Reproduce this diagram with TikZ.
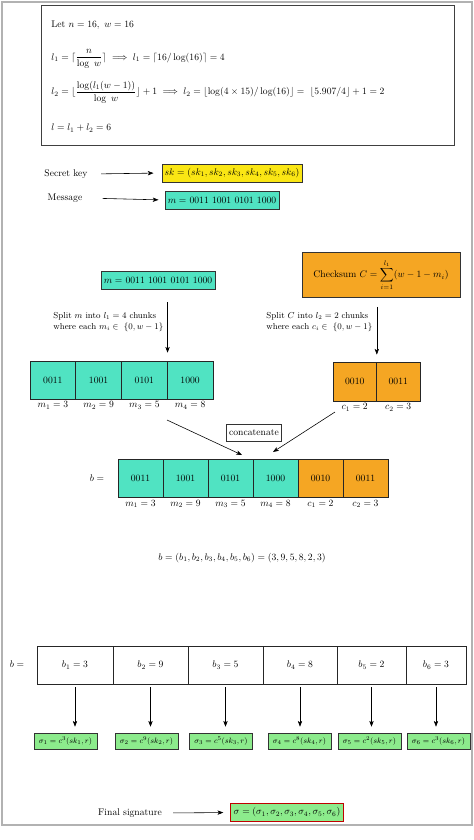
\documentclass[tikz,border=0pt]{standalone}
\usepackage{amsmath}
\usetikzlibrary{positioning,arrows.meta}
\definecolor{turq}{RGB}{80,227,194}
\definecolor{chk}{RGB}{245,166,35}
\definecolor{keyyellow}{RGB}{250,230,20}
\definecolor{siggreen}{RGB}{140,235,140}
\begin{document}
\begin{tikzpicture}[x=0.0365cm,y=-0.0365cm,
  box/.style={draw=black!80, semithick, inner sep=3pt, minimum height=0.66cm},
  cell/.style={draw=black!85, semithick, minimum height=1.39cm, inner sep=0pt},
  sig/.style={draw=black!80, semithick, fill=siggreen, font=\footnotesize, minimum width=2.3cm, minimum height=0.58cm, inner sep=1pt},
  arr/.style={-{Stealth[length=6pt,width=4.5pt,inset=1.5pt]}, semithick},
  small/.style={font=\small, align=left}]
  \useasboundingbox (0,0) rectangle (474,840);
  \draw[gray!60, line width=1.2pt] (2,2) rectangle (472,825);

  % parameters
  \draw[black!75, semithick] (41,5) rectangle (454,145);
  \node[anchor=west] (let) at (48,25) {Let $n = 16,\ w = 16$};
  \node[anchor=west] (lone) at (48,59) {$l_1 = \lceil\dfrac{n}{\log\ w}\rceil \implies l_1 = \lceil 16/\log(16)\rceil = 4$};
  \node[anchor=west] (ltwo) at (48,92) {$l_2 = \lfloor\dfrac{\log(l_1(w-1))}{\log\ w}\rfloor + 1 \implies l_2 = \lfloor\log(4\times15)/\log(16)\rfloor =\ \lfloor 5.907/4\rfloor + 1 = 2$};
  \node[anchor=west] (lsum) at (48,128) {$l = l_1 + l_2 = 6$};

  % inputs
  \node (lsk) at (66,174) {Secret key};
  \node[box, fill=keyyellow] (sk) at (232,173) {$sk = (sk_1, sk_2, sk_3, sk_4, sk_5, sk_6)$};
  \node (lmsg) at (65,198) {Message};
  \node[box, fill=turq] (msg) at (222,200) {$m =$ 0011 1001 0101 1000};
  \draw[arr, shorten <=0.37cm, shorten >=0.29cm] (lsk.east) -- (sk.west);
  \draw[arr, shorten <=0.62cm, shorten >=0.22cm] (lmsg.east) -- (msg.west);

  % message and checksum
  \node[box, fill=turq] (mmsg) at (158,280) {$m =$ 0011 1001 0101 1000};
  \node[box, fill=chk, minimum width=5.77cm, minimum height=1.64cm] (csum) at (381,275) {Checksum $C = \displaystyle\sum_{i=1}^{l_1}(w-1-m_i)$};
  \node[small, anchor=west] (splitm) at (50,322) {Split $m$ into $l_1 = 4$ chunks\\ where each $m_i \in\ \{0, w-1\}$};
  \node[small, anchor=west] (splitc) at (263,322) {Split $C$ into $l_2 = 2$ chunks\\ where each $c_i \in\ \{0, w-1\}$};

  \foreach \v [count=\i] in {0011,1001,0101,1000}
    \node[cell, fill=turq, minimum width=1.67cm] (m\i) at (30+45.75*\i-22.875,380) {\v};
  \foreach \v [count=\i] in {3,9,5,8}
    \node[below=1pt of m\i, inner sep=1pt] (ml\i) {$m_\i = \v$};
  \foreach \v [count=\i] in {0010,0011}
    \node[cell, fill=chk, minimum width=1.59cm, minimum height=1.42cm] (c\i) at (333+43.5*\i-21.75,381.5) {\v};
  \foreach \v [count=\i] in {2,3}
    \node[below=1pt of c\i, inner sep=1pt] (cl\i) {$c_\i = \v$};

  \draw[arr, shorten <=0.47cm, shorten >=0.29cm] (mmsg.south -| m3.north east) -- (m3.north east);
  \draw[arr, shorten <=0.33cm, shorten >=0.26cm] (csum.south -| c1.north east) -- (c1.north east);

  % concatenation
  \node[box, fill=white, minimum height=0.6cm] (cat) at (254,433) {concatenate};
  \coordinate (catA) at (167,420);
  \coordinate (catAend) at (242,455);
  \coordinate (catB) at (335,412);
  \coordinate (catBend) at (273,452);
  \draw[arr] (catA) -- (catAend);
  \draw[arr] (catB) -- (catBend);

  \node (blab) at (97,478) {$b =$};
  \foreach \v/\f [count=\i] in {0011/turq,1001/turq,0101/turq,1000/turq,0010/chk,0011/chk}
    \node[cell, fill=\f, minimum width=1.64cm] (bc\i) at (95.5+45*\i,478.5) {\v};
  \foreach \l [count=\i] in {m_1 = 3,m_2 = 9,m_3 = 5,m_4 = 8,c_1 = 2,c_2 = 3}
    \node[below=1pt of bc\i, inner sep=1pt] (bl\i) {$\l$};

  \node (tuple) at (242,558) {$b = (b_1, b_2, b_3, b_4, b_5, b_6) = (3, 9, 5, 8, 2, 3)$};

  % signing
  \node (blab2) at (17,664) {$b =$};
  \foreach \x/\w/\v [count=\i] in {75/76/3,150.5/75/9,225.5/75/5,300/74/8,371.5/69/2,436/60/3}
    \node[cell, fill=white, minimum width=\w*0.0365cm] (bb\i) at (\x,665) {$b_\i = \v$};
  \foreach \x/\e [count=\i] in {65.5/3,146.5/9,221/5,299.5/8,369.5/2,438.5/3}
    \node[sig] (sg\i) at (\x,741) {$\sigma_\i = c^{\e}(sk_\i, r)$};
  \foreach \i in {1,...,6}
    \draw[arr, shorten <=0.11cm, shorten >=0.22cm] (bb\i.south) -- (bb\i.south |- sg\i.north);

  \node (lfin) at (130,813) {Final signature};
  \node[box, draw=red!75!black, thick, fill=siggreen] (sigma) at (287,812.5) {$\sigma = (\sigma_1, \sigma_2, \sigma_3, \sigma_4, \sigma_5, \sigma_6)$};
  \draw[arr, shorten <=0.29cm, shorten >=0.26cm] (lfin.east) -- (sigma.west);
\end{tikzpicture}
\end{document}
